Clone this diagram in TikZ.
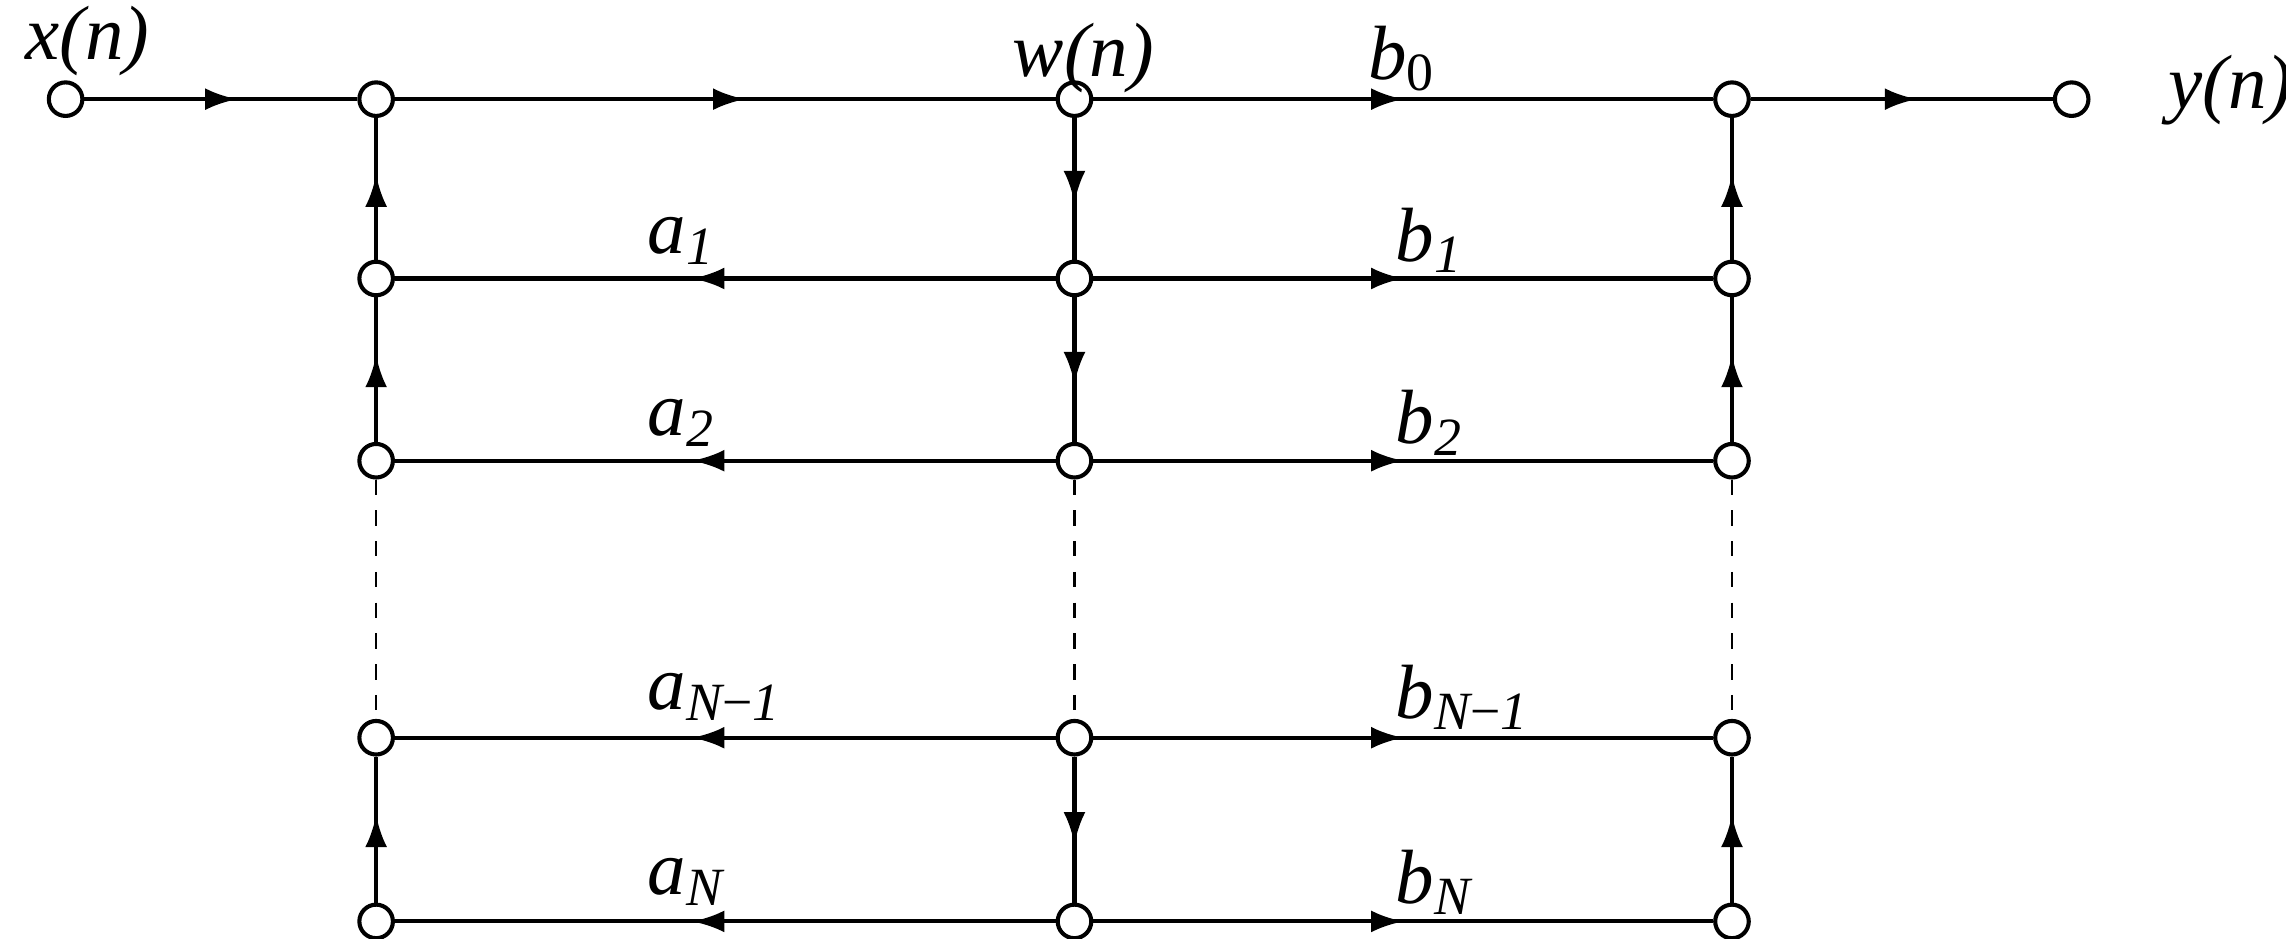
\documentclass[tikz,border=0pt]{standalone}
\usepackage{fontspec}
\setmainfont{Liberation Serif}
\usetikzlibrary{decorations.markings,arrows.meta}
\begin{document}
\begin{tikzpicture}[x=0.01cm,y=-0.01cm,
  nd/.style={circle,draw,minimum size=0.23cm,inner sep=0pt,line width=0.8pt},
  ln/.style={line width=0.8pt},
  marr/.style={ln,postaction={decorate},decoration={markings,mark=at position #1 with {\arrow{Latex[length=0.22cm,width=0.15cm]}}}},
  marr/.default=0.52,
  lab/.style={font=\fontsize{15}{15}\selectfont\itshape}]
\useasboundingbox (0,0) rectangle (1568,644);
\node[nd] (in) at (45,68) {};
\node[nd] (out) at (1421,68) {};
\foreach \r/\y in {0/68,1/191,2/316,3/506,4/632}{
  \node[nd] (L\r) at (258,\y) {};
  \node[nd] (M\r) at (737,\y) {};
  \node[nd] (R\r) at (1188,\y) {};
}
\draw[marr=0.56] (in) -- (L0);
\draw[marr=0.53] (L0) -- (M0);
\draw[marr=0.5] (M0) -- (R0);
\draw[marr=0.55] (R0) -- (out);
\foreach \r in {1,2,3,4}{
  \draw[marr=0.55] (M\r) -- (L\r);
  \draw[marr=0.5] (M\r) -- (R\r);
}
\foreach \a/\b in {1/0,2/1,4/3}{
  \draw[marr=0.6] (L\a) -- (L\b);
  \draw[marr=0.6] (M\b) -- (M\a);
  \draw[marr=0.6] (R\a) -- (R\b);
}
\foreach \c in {L,M,R}{\draw[dashed,line width=0.5pt] (\c2) -- (\c3);}
\node[lab] (tx) at (60,28) {x(\textit{n})};
\node[lab] (tw) at (743,40) {w(\textit{n})};
\node[lab] (ty) at (1530,62) {y(\textit{n})};
\node[lab] (b0) at (962,40) {b\textsubscript{\upshape 0}};
\foreach \r/\y/\s in {1/165/1,2/290/2,3/478/N\textrm{\upshape −}1,4/605/N}{
  \node[lab,anchor=west] at (432,\y) {a\textsubscript{\s}};
  \node[lab,anchor=west] at (945,\y) {b\textsubscript{\s}};
}
\end{tikzpicture}
\end{document}
